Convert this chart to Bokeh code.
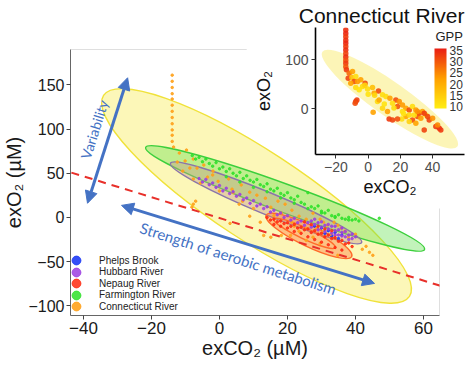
import numpy as np
from bokeh.plotting import figure
from bokeh.layouts import column
from bokeh.models import (ColumnDataSource, FixedTicker, Label, Arrow, NormalHead, Slope,
                          Legend, LegendItem, LinearColorMapper, ColorBar, BoxAnnotation, AllLabels)
from bokeh.transform import linear_cmap
from bokeh.embed import file_html
from bokeh.resources import INLINE

# ---------------- data ----------------
x_ticks = [-40, -20, 0, 20, 40, 60]
y_ticks = [-100, -50, 0, 50, 100, 150]
inset_x_ticks = [-20, 0, 20, 40]
inset_y_ticks = [0, 100]
gpp_ticks = [10, 15, 20, 25, 30, 35]

rivers = ["Phelps Brook", "Hubbard River", "Nepaug River", "Farmington River", "Connecticut River"]
river_colors = ["#1f3cf5", "#9b3ee0", "#ff2a12", "#2fe02a", "#ffa21c"]

# Connecticut River (exCO2, exO2, GPP)
ct_exco2 = [-13.9, -13.9, -13.9, -13.9, -13.9, -13.9, -13.9, -13.9, -13.9, -13.9, -13.9, -13.9,
            -13.5, -11.8, -9.7, -12.4, -10.1, -7.7, -8.7, -10.8, -6.6, -4.6, -1.9, -3.5, -7.7, -5.6,
            -0.4, 2.7, 6.4, 3.7, 8.9, 11.0, 13.5, 17.2, 19.3, 15.1, 21.3, 18.2, 23.4, 25.5, 27.5, 29.6,
            31.7, 30.6, 33.7, 35.8, 37.9, 40.0, 42.0, 44.1, 45.1, 43.1, 34.8, 27.5, 23.4, 20.9, 13.0,
            15.1, 18.2, 25.5, 29.6, 32.7, -7.7, -7.0, -8.1, 3.1, 5.8, 8.9, 12.0, 6.8, 21.3, 25.5, 28.6,
            30.6, 34.8, 36.9, 0.0, 10.0, 16.0, 22.0, -2.0, 4.0]
ct_exo2 = [161, 154, 147, 140, 134, 127, 120, 113, 106, 99, 93, 86,
           79.6, 72.8, 76.2, 62.6, 63.9, 66.0, 55.8, 52.4, 55.8, 59.2, 52.4, 45.6, 43.5, 38.8,
           40.8, 43.5, 36.7, 32.0, 28.6, 25.2, 21.8, 18.4, 15.0, 11.6, 8.2, 4.8, 1.4, -2.0, 4.8, -2.0,
           -8.8, -15.6, -5.4, -12.2, -22.4, -19.0, -36.1, -39.5, -42.9, -32.7, -42.9, -22.4, -15.6, -20.4, -20.4,
           -22.4, -20.4, -25.9, -29.3, -19.0, 15.0, 18.4, 11.6, -6.8, 15.0, 1.4, -5.4, 18.4, -5.4, -12.2, -12.2,
           -5.4, -8.8, -15.6, 30.0, 10.0, 2.0, -10.0, 48.0, 28.0]
ct_gpp = [34, 35, 33, 34, 35, 33, 34, 32, 34, 31, 33, 30,
          33, 28, 22, 32, 17, 12, 31, 22, 23, 22, 31, 12, 12, 11,
          12, 17, 31, 22, 12, 12, 22, 31, 24, 12, 23, 30, 22, 31, 12, 23,
          32, 30, 22, 12, 32, 24, 33, 34, 33, 25, 32, 31, 22, 12, 33,
          32, 31, 14, 22, 23, 33, 32, 31, 22, 12, 13, 22, 21, 12, 13, 12,
          24, 33, 32, 11, 11, 12, 11, 14, 13]

fa_exco2 = [-8, -7, -6, -5, -4, -3, -2, -1, 0, 1, 2, 3, 4, 5, 6, 7, 8, 9, 10, 11, 12, 13, 14, 15, 16,
            17, 18, 19, 20, 21, 22, 23, 24, 25, 26, 27, 28, 29, 30, 31, 32, 33, 34, 35, 36, 37, 38, 39,
            40, 41, 47, 2, 6, 10, 14, 18, 22, 26, 30, 34, 38]
fa_exo2 = [70, 66, 68, 63, 66, 61, 58, 62, 55, 57, 52, 55, 50, 47, 51, 44, 47, 42, 40, 43, 37, 35, 38, 32, 30,
           33, 27, 25, 28, 22, 20, 24, 17, 15, 28, 12, 10, 13, 7, 5, 8, 2, 0, 3, -1, -2, 0, -3,
           -2, -4, -1, 46, 40, 34, 29, 22, 16, 10, 5, 1, -3]

hu_exco2 = [-6, -5, -4, -3, -2, -1, 0, 1, 2, 3, 4, 5, 6, 7, 8, 9, 10, 11, 12, 13, 14, 15, 16, 17, 18, 19,
            20, 21, 22, 23, 24, 25, 26, 27, 28, 29, 30, 31, 32, 33, 34, 35, 36, 37, 38, 39, 40,
            30, 32, 34, 36, 28, 33, 35, 37, 39, 31, 29, 27, 36, 38, 34]
hu_exo2 = [44, 40, 43, 37, 39, 34, 36, 30, 33, 27, 29, 24, 26, 20, 22, 16, 19, 13, 15, 10, 12, 6, 8, 3, 5, 0,
           2, -3, -1, -6, -4, -9, -6, -11, -8, -14, -11, -16, -13, -18, -15, -20, -17, -22, -20, -24, -22,
           -5, -8, -10, -12, -2, -10, -14, -16, -19, -9, -6, -4, -21, -25, -20]

ne_exco2 = [14, 15, 16, 17, 18, 19, 20, 21, 22, 23, 24, 25, 26, 27, 28, 29, 30, 31, 32, 33, 34, 35, 36, 37,
            38, 39, 20, 22, 24, 26, 28, 30, 32, 34, 36, 25, 27, 29, 31, 33, 18, 16]
ne_exo2 = [0, -3, -2, -5, -4, -7, -6, -10, -8, -12, -11, -14, -13, -17, -15, -19, -18, -22, -20, -24, -23, -27,
           -26, -30, -29, -33, -12, -16, -18, -22, -25, -28, -31, -34, -37, -5, -8, -10, -13, -15, -10, -8]

ph_exco2 = [28, 30, 32, 34, 36, 31, 33, 35]
ph_exo2 = [-10, -12, -15, -17, -20, -18, -21, -24]

# data ellipses (centre in data units, axes in px, angle in degrees)
ell_cx = [10.9, 19.3, 13.7, 26.3, 25.0]
ell_cy = [24.3, 21.5, 16.4, -20.9, -18.0]
ell_w = [366, 297, 207, 95, 68]
ell_h = [90, 28, 22, 21, 11]
ell_ang = [-33.3, -20.1, -22.5, -25.7, -25.0]
ell_fill = ["#f7ea45", "#5ee04a", "#c89a8a", "#ff7a3c", None]
ell_fill_alpha = [0.38, 0.38, 0.42, 0.42, 0]
ell_line = ["#f0e23a", "#3ccf3c", "#8a74aa", "#ff6a2a", "#ff6a2a"]

ct_ell_cx, ct_ell_cy, ct_ell_w, ct_ell_h, ct_ell_ang = 13.5, 20.0, 165, 34, -35.1

slope_gradient = -1.18
slope_intercept = -0.7

# ---------------- main figure ----------------
X0, X1 = -43.8, 64.7
Y0, Y1 = -111, 190
blue = "#4472C4"
font = "Liberation Sans"
MAIN_H = 49 + 266 + 52

p = figure(frame_width=369, frame_height=266, x_range=(X0, X1), y_range=(Y0, Y1),
           output_backend="svg", toolbar_location=None,
           min_border_left=69, min_border_right=34, min_border_top=49, min_border_bottom=52)
p.outline_line_color = None
p.grid.visible = False
p.background_fill_color = "white"
p.border_fill_color = "white"

for ax, ticks in ((p.xaxis, x_ticks), (p.yaxis, y_ticks)):
    ax.ticker = FixedTicker(ticks=ticks)
    ax.axis_line_color = "#666666"
    ax.major_tick_line_color = "#444444"
    ax.minor_tick_line_color = None
    ax.major_tick_out = 4
    ax.major_tick_in = 0
    ax.major_label_standoff = 2
    ax.major_label_text_font = font
    ax.major_label_text_color = "#1a1a1a"
    ax.axis_label_text_font = font
    ax.axis_label_text_font_style = "normal"
    ax.axis_label_text_font_size = "20px"
    ax.axis_label_text_color = "#1a1a1a"
    ax.axis_label_standoff = 0
p.xaxis.major_label_text_font_size = "17px"
p.yaxis.major_label_text_font_size = "16px"
p.xaxis.axis_label = "exCO₂ (µM)"
p.yaxis.axis_label = "exO₂ (µM)"

# partial frame lines (top-left and lower-right)
p.add_layout(BoxAnnotation(left=X0, right=8, top=Y1, bottom=Y1, fill_alpha=0,
                           line_color="#8c8c8c", line_width=1))
p.add_layout(BoxAnnotation(left=X1, right=X1, top=10, bottom=Y0, fill_alpha=0,
                           line_color="#8c8c8c", line_width=1))

for i in range(len(ell_cx)):
    p.ellipse(x=[ell_cx[i]], y=[ell_cy[i]], width=[ell_w[i]], height=[ell_h[i]],
              angle=[np.deg2rad(ell_ang[i])], width_units="screen", height_units="screen",
              fill_color=ell_fill[i], fill_alpha=ell_fill_alpha[i],
              line_color=ell_line[i], line_width=1.4)

ct_src = ColumnDataSource(dict(x=ct_exco2, y=ct_exo2, gpp=ct_gpp))
r_ph = p.scatter(ph_exco2, ph_exo2, size=2.5, color=river_colors[0], alpha=0.9)
r_ct = p.scatter("x", "y", source=ct_src, size=2.5, color=river_colors[4], alpha=0.9)
r_hu = p.scatter(hu_exco2, hu_exo2, size=2.5, color=river_colors[1], alpha=0.85)
r_fa = p.scatter(fa_exco2, fa_exo2, size=2.5, color=river_colors[3], alpha=0.85)
r_ne = p.scatter(ne_exco2, ne_exo2, size=2.5, color=river_colors[2], alpha=0.85)

p.add_layout(Slope(gradient=slope_gradient, y_intercept=slope_intercept,
                   line_color="#e8302a", line_dash="8 6", line_width=2))

def head():
    return NormalHead(size=12, fill_color=blue, line_color=blue)

p.add_layout(Arrow(start=head(), end=head(), x_start=-38.8, y_start=16, x_end=-27, y_end=158,
                   line_color=blue, line_width=3))
p.add_layout(Arrow(start=head(), end=head(), x_start=-28.8, y_start=13.6, x_end=45.6, y_end=-74.7,
                   line_color=blue, line_width=3))
p.add_layout(Label(x=-36.8, y=99.5, text="Variability", angle=1.264, text_font="Lato",
                   text_font_size="14px", text_color=blue, text_align="center",
                   text_baseline="middle"))
p.add_layout(Label(x=5.6, y=-46.4, text="Strength of aerobic metabolism", angle=-0.31,
                   text_font="Lato", text_font_size="15px", text_color=blue,
                   text_align="center", text_baseline="middle"))

leg_kw = dict(glyph_height=22, glyph_width=22, label_height=11, spacing=1, padding=0, margin=0,
              label_standoff=12, background_fill_alpha=0, border_line_alpha=0,
              label_text_font=font, label_text_font_size="10px", label_text_color="#222222")
legend_a = Legend(items=[LegendItem(label=rivers[0], renderers=[r_ph]),
                         LegendItem(label=rivers[2], renderers=[r_ne]),
                         LegendItem(label=rivers[4], renderers=[r_ct])],
                  location=(-5, -2), **leg_kw)
legend_b = Legend(items=[LegendItem(label=rivers[1], renderers=[r_hu]),
                         LegendItem(label=rivers[3], renderers=[r_fa])],
                  location=(-5, 9.5), **leg_kw)
p.add_layout(legend_a)
p.add_layout(legend_b)

# ---------------- inset ----------------
stops = np.array([[255, 238, 20], [255, 160, 0], [234, 30, 20]], dtype=float)
palette = []
for t in np.linspace(0, 1, 256):
    if t <= 0.5:
        c = stops[0] + (stops[1] - stops[0]) * (t / 0.5)
    else:
        c = stops[1] + (stops[2] - stops[1]) * ((t - 0.5) / 0.5)
    palette.append("#%02x%02x%02x" % tuple(int(round(v)) for v in c))
mapper = LinearColorMapper(palette=palette, low=9, high=36)

INSET_H = 26 + 127 + 46
q = figure(frame_width=149, frame_height=127, x_range=(-32.7, 59.8), y_range=(-93, 166),
           output_backend="svg", toolbar_location=None,
           min_border_left=68, min_border_right=10, min_border_top=26, min_border_bottom=46,
           title="Connecticut River")
q.title.text_font = font
q.title.text_font_size = "21px"
q.title.text_font_style = "normal"
q.title.text_color = "#111111"
q.title.align = "right"
q.title.standoff = 2
q.background_fill_color = None
q.border_fill_color = None
q.outline_line_color = None
q.grid.visible = False
for ax, ticks in ((q.xaxis, inset_x_ticks), (q.yaxis, inset_y_ticks)):
    ax.ticker = FixedTicker(ticks=ticks)
    ax.axis_line_color = "black"
    ax.axis_line_width = 1.6
    ax.major_tick_line_color = "#333333"
    ax.minor_tick_line_color = None
    ax.major_tick_out = 4
    ax.major_tick_in = 0
    ax.major_label_standoff = 3
    ax.major_label_text_font = font
    ax.major_label_text_font_size = "14px"
    ax.major_label_text_color = "#4d4d4d"
    ax.axis_label_text_font = font
    ax.axis_label_text_font_style = "normal"
    ax.axis_label_text_font_size = "18px"
    ax.axis_label_text_color = "#111111"
q.xaxis.axis_label = "exCO₂"
q.yaxis.axis_label = "exO₂"
q.xaxis.axis_label_standoff = 2
q.yaxis.axis_label_standoff = 8

q.ellipse(x=[ct_ell_cx], y=[ct_ell_cy], width=[ct_ell_w], height=[ct_ell_h],
          angle=[np.deg2rad(ct_ell_ang)], width_units="screen", height_units="screen",
          fill_color="#faef90", fill_alpha=0.65, line_color=None)
q.scatter("x", "y", source=ct_src, size=5.5, line_color=None, fill_alpha=0.9,
          fill_color=linear_cmap("gpp", palette, 9, 36))

cb = ColorBar(color_mapper=mapper, ticker=FixedTicker(ticks=gpp_ticks), width=12, height=60,
              major_label_text_font=font, major_label_text_font_size="12px",
              major_label_text_color="#333333", label_standoff=3,
              major_label_policy=AllLabels(),
              major_tick_line_color=None, bar_line_color=None,
              background_fill_alpha=0, border_line_color=None, padding=0, margin=0,
              location=(119, 46))
q.add_layout(cb)
q.add_layout(Label(x=41.8, y=147.6, text="GPP", text_font=font, text_font_size="13px",
                   text_color="#222222", text_align="left", text_baseline="middle"))

q.margin = (-MAIN_H, 0, MAIN_H - INSET_H - 2, 245)

layout = column(p, q)
open("out.html", "w").write(file_html(layout, INLINE))
